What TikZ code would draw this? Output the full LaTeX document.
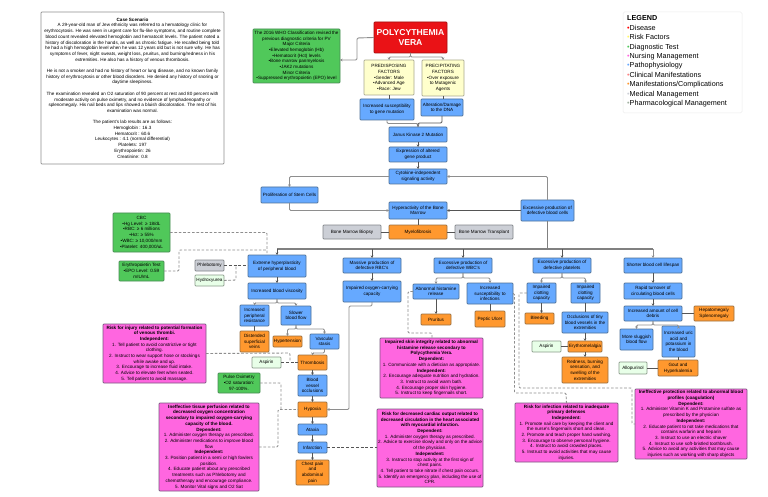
\documentclass[tikz,border=0pt]{standalone}
\usepackage{fontspec}
\setmainfont{Liberation Sans}
\usetikzlibrary{arrows.meta,calc}
\definecolor{cblue}{HTML}{66A9FF}
\definecolor{bblue}{HTML}{4F7198}
\definecolor{corange}{HTML}{FF982E}
\definecolor{borange}{HTML}{9A7040}
\definecolor{cpink}{HTML}{FF66E0}
\definecolor{bpink}{HTML}{7A5A80}
\definecolor{cgreen}{HTML}{50C85A}
\definecolor{bgreen}{HTML}{4A8A55}
\definecolor{cyell}{HTML}{FFFFCC}
\definecolor{byell}{HTML}{A8A890}
\definecolor{clgreen}{HTML}{E8FFE8}
\definecolor{blgreen}{HTML}{8A9A8A}
\definecolor{cgrey}{HTML}{CCCFD6}
\definecolor{bgrey}{HTML}{808488}
\definecolor{cred}{HTML}{EA1216}
\definecolor{lnc}{HTML}{555555}
\definecolor{lnl}{HTML}{8E8E8E}
\newcommand{\bx}[7]{\node[#1,minimum width={(#5-#3)*1pt},minimum height={(#6-#4)*1pt}] (#2) at ({(#3+#5)/2},{(#4+#6)/2}) {#7};}
\newcommand{\hd}[1]{\textbf{#1}}
\newcommand{\lgitem}[2]{\textcolor{#1}{•}#2}
\tikzset{
  base/.style={draw,rectangle,rounded corners=0.8pt,line width=0.7pt,align=center,inner sep=0pt,outer sep=0pt,text=black,font=\fontsize{4.6}{5.7}\selectfont},
  sblue/.style={base,fill=cblue,draw=bblue},
  sorange/.style={base,fill=corange,draw=borange},
  spink/.style={base,fill=cpink,draw=bpink},
  sgreen/.style={base,fill=cgreen,draw=bgreen},
  syell/.style={base,fill=cyell,draw=byell},
  slgreen/.style={base,fill=clgreen,draw=blgreen},
  sgrey/.style={base,fill=cgrey,draw=bgrey},
  redbox/.style={base,fill=cred,draw=cred!70!black,text=white,font=\fontsize{8.6}{9.6}\selectfont\bfseries},
  casebox/.style={base,fill=white,draw=lnl},
  legendbox/.style={draw=black!7,fill=white,rounded corners=1.5pt,line width=0.5pt,align=left,inner sep=0pt,outer sep=0pt},
  ln/.style={draw=lnc,line width=0.9pt,rounded corners=1.2pt},
  arr/.style={ln,-{Stealth[length=2.6pt,width=2.6pt]}},
  larr/.style={arr,draw=lnl},
  bar/.style={draw=lnc!75,line width=1.5pt},
  dsh/.style={draw=lnl,line width=0.9pt,dash pattern=on 2.6pt off 1.8pt,rounded corners=1.2pt},
  ddsh/.style={draw=lnc,line width=0.9pt,dash pattern=on 3pt off 1.8pt},
}
\begin{document}
\begin{tikzpicture}[x=1pt,y=-1pt]
\useasboundingbox[fill=white] (0,0) rectangle (768,497);
% text boxes
\bx{casebox}{case}{41}{12}{224}{164}{\hd{Case Scenario}\\
A 29-year-old man of Jew ethnicity was referred to a hematology clinic for\\
erythrocytosis. He was seen in urgent care for flu-like symptoms, and routine complete\\
blood count revealed elevated hemoglobin and hematocrit levels. The patient noted a\\
history of discoloration in the hands, as well as chronic fatigue. He recalled being told\\
he had a high hemoglobin level when he was 12 years old but is not sure why. He has\\
symptoms of fever, night sweats, weight loss, pruritus, and burning/redness in his\\
extremities. He also has a history of venous thrombosis.\\[5.7pt]
He is not a smoker and had no history of heart or lung disease, and no known family\\
history of erythrocytosis or other blood disorders. He denied any history of snoring or\\
daytime sleepiness.\\[5.7pt]
The examination revealed an O2 saturation of 90 percent at rest and 80 percent with\\
moderate activity on pulse oximetry, and no evidence of lymphadenopathy or\\
splenomegaly. His nail beds and lips showed a bluish discoloration. The rest of his\\
examination was normal.\\[5.7pt]
The patient's lab results are as follows:\\
Hemoglobin : 16.3\\
Hematocrit : 60.6\\
Leukocytes : 4.1 (normal differential)\\
Platelets: 197\\
Erythropoietin: 26\\
Creatinine: 0.8}
\bx{sgreen}{who}{253}{29}{340}{83}{The 2016 WHO Classification revised the\\previous diagnostic criteria for PV\\Major Criteria\\•Elevated hemoglobin (Hb)\\•Hematocrit (Hct) levels\\•Bone marrow panmyelosis\\•JAK2 mutations\\Minor Criteria\\•Suppressed erythropoietin (EPO) level}
\bx{redbox}{pv}{374}{22}{447}{53}{POLYCYTHEMIA\\VERA}
\bx{syell}{pred}{364}{60}{414}{95}{PREDISPOSING\\FACTORS\\•Gender: Male\\•Advanced Age\\•Race: Jew}
\bx{syell}{prec}{422}{60}{464}{96}{PRECIPITATING\\FACTORS\\•Over exposure\\to Mutagenic\\Agents}
\bx{sblue}{susc}{360}{99}{414}{120}{Increased susceptibility\\to gene mutation}
\bx{sblue}{alter}{421}{99}{463}{116}{Alteration/Damage\\to the DNA}
\bx{sblue}{jak}{389}{127}{447}{142}{Janus Kinase 2 Mutation}
\bx{sblue}{expr}{389}{147}{447}{162}{Expression of altered\\gene product}
\bx{sblue}{cyto}{389}{169}{447}{184}{Cytokine-independent\\signaling activity}
\bx{sblue}{prolif}{261}{187}{318}{203}{Proliferation of Stem Cells}
\bx{sblue}{hyper}{389}{202}{447}{219}{Hyperactivity of the Bone\\Marrow}
\bx{sblue}{exc}{521}{200}{574}{221}{Excessive production of\\defective blood cells}
\bx{sorange}{myelo}{389}{225}{447}{239}{Myelofibrosis}
\bx{sgrey}{biopsy}{323}{225}{381}{239}{Bone Marrow Biopsy}
\bx{sgrey}{transp}{455}{225}{513}{239}{Bone Marrow Transplant}
\bx{sblue}{ext}{248}{255}{306}{277}{Extreme hyperplasticity\\of peripheral blood}
\bx{sblue}{mass}{343}{258}{401}{273}{Massive production of\\defective RBC's}
\bx{sblue}{wbc}{434}{258}{492}{273}{Excessive production of\\defective WBC's}
\bx{sblue}{plat}{533}{258}{591}{273}{Excessive production of\\defective platelets}
\bx{sblue}{short}{624}{258}{682}{273}{Shorter blood cell lifespan}
\bx{sgreen}{cbc}{113}{213}{170}{252}{CBC\\•Hg Level: ≥ 18/dL\\•RBC: ≥ 6 millions\\•Hct: ≥ 55\%\\•WBC: ≥ 10,000/mm\\•Platelet: 400,000/uL}
\bx{sgreen}{epo}{119}{261}{164}{281}{Erythropoietin Test\\•EPO Level: 0.59\\mIU/mL}
\bx{sgrey}{phleb}{195}{260}{224}{271}{Phlebotomy}
\bx{slgreen}{hydro}{195}{275}{224}{286}{Hydroxyurea}
\bx{sblue}{visc}{248}{283}{306}{299}{Increased blood viscosity}
\bx{sblue}{perip}{240}{305}{269}{326}{Increased\\peripheral\\resistance}
\bx{sblue}{slow}{281}{306}{311}{325}{Slower\\blood flow}
\bx{sorange}{dist}{240}{331}{269}{352}{Distended\\superficial\\veins}
\bx{sorange}{htn}{273}{336}{302}{347}{Hypertension}
\bx{sblue}{stasis}{310}{334}{339}{349}{Vascular\\stasis}
\bx{sblue}{oxy}{343}{281}{401}{302}{Impaired oxygen-carrying\\capacity}
\bx{sblue}{hist}{413}{284}{459}{299}{Abnormal histamine\\release}
\bx{sblue}{infs}{467}{283}{513}{304}{Increased\\susceptibility to\\infections}
\bx{sorange}{prur}{421}{314}{451}{325}{Pruritus}
\bx{sorange}{ulcer}{475}{311}{505}{327}{Peptic Ulcer}
\bx{sblue}{cut1}{527}{283}{556}{303}{Impaired\\clotting\\capacity}
\bx{sblue}{cut2}{571}{283}{600}{303}{Impaired\\clotting\\capacity}
\bx{sorange}{bleed}{525}{313}{554}{324}{Bleeding}
\bx{sblue}{occl}{562}{312}{608}{333}{Occlusions of tiny\\blood vessels in the\\extremities}
\bx{slgreen}{asp}{532}{341}{561}{352}{Aspirin}
\bx{sorange}{eryth}{568}{341}{602}{352}{Erythromelalgia}
\bx{sorange}{redn}{562}{357}{608}{383}{Redness, burning\\sensation, and\\swelling of the\\extremities}
\bx{sblue}{rapid}{624}{283}{682}{299}{Rapid turnover of\\circulating blood cells}
\bx{sblue}{debris}{624}{306}{682}{321}{Increased amount of cell\\debris}
\bx{sorange}{hepa}{694}{306}{734}{321}{Hepatomegaly\\Splenomegaly}
\bx{sblue}{slug}{620}{329}{653}{350}{More sluggish\\blood flow}
\bx{sblue}{uric}{662}{326}{695}{357}{Increased uric\\acid and\\potassium in\\the blood}
\bx{slgreen}{allo}{619}{362}{647}{374}{Allopurinol}
\bx{sorange}{gout}{658}{360}{698}{376}{Gout and\\Hyperkalemia}
\bx{slgreen}{asp2}{252}{357}{281}{368}{Aspirin}
\bx{sorange}{thromb}{298}{355}{327}{370}{Thrombosis}
\bx{sblue}{vess}{298}{375}{327}{396}{Blood\\vessel\\occlusions}
\bx{sorange}{hypox}{298}{402}{327}{417}{Hypoxia}
\bx{sgreen}{pulse}{218}{373}{260}{393}{Pulse Oximetry\\•O2 saturation:\\97-100\%.}
\bx{sblue}{atax}{298}{424}{327}{435}{Ataxia}
\bx{sblue}{inf}{298}{442}{327}{453}{Infarction}
\bx{sorange}{chest}{296}{460}{329}{485}{Chest pain\\and\\abdominal\\pain}
\bx{spink}{p1}{103}{324}{206}{383}{\hd{Risk for injury related to potential formation}\\\hd{of venous thrombi.}\\\hd{Independent:}\\1. Tell patient to avoid constrictive or tight\\clothing.\\2. Instruct to wear support hose or stockings\\while awake and up.\\3. Encourage to increase fluid intake.\\4. Advice to elevate feet when seated.\\5. Tell patient to avoid massage.}
\bx{spink}{p2}{159}{403}{259}{491}{\hd{Ineffective tissue perfusion related to}\\\hd{decreased oxygen concentration}\\\hd{secondary to impaired oxygen-carrying}\\\hd{capacity of the blood.}\\\hd{Dependent:}\\1. Administer oxygen therapy as prescribed.\\2. Administer medications to improve blood\\flow\\\hd{Independent:}\\3. Position patient in a semi or high fowlers\\position.\\4. Educate patient about any prescribed\\treatments such as Phlebotomy and\\chemotherapy and encourage compliance.\\5. Monitor Vital signs and O2 Sat}
\bx{spink}{p3}{380}{338}{483}{398}{\hd{Impaired skin integrity related to abnormal}\\\hd{histamine release secondary to}\\\hd{Polycythemia Vera.}\\\hd{Dependent:}\\1. Communicate with a dietician as appropriate.\\\hd{Independent:}\\2. Encourage adequate nutrition and hydration.\\3. Instruct to avoid warm bath.\\4. Encourage proper skin hygiene.\\5. Instruct to keep fingernails short.}
\bx{spink}{p4}{377}{409}{483}{487}{\hd{Risk for decreased cardiac output related to}\\\hd{decreased circulation in the heart associated}\\\hd{with myocardial infarction.}\\\hd{Dependent:}\\1. Administer oxygen therapy as prescribed.\\2. Advice to exercise slowly and only on the advice\\of the physician.\\\hd{Independent:}\\3. Instruct to stop activity at the first sign of\\chest pains.\\4. Tell patient to take nitrate if chest pain occurs.\\5. Identify an emergency plan, including the use of\\CPR.}
\bx{spink}{p5}{515}{403}{618}{462}{\hd{Risk for infection related to inadequate}\\\hd{primary defenses}\\\hd{Independent:}\\1. Promote nail care by keeping the client and\\the nurse's fingernails short and clean.\\2. Promote and teach proper hand washing.\\3. Encourage to observe personal hygiene.\\4. Instruct to avoid crowded places.\\5. Instruct to avoid activities that may cause\\injuries.}
\bx{spink}{p6}{635}{389}{747}{459}{\hd{Ineffective protection related to abnormal blood}\\\hd{profiles (coagulation)}\\\hd{Dependent:}\\1. Administer Vitamin K and Protamine sulfate as\\prescribed by the physician\\\hd{Independent:}\\2. Educate patient to not take medications that\\contains warfarin and heparin\\3. Instruct to use an electric shaver\\4. Instruct to use soft-bristled toothbrush.\\5. Advice to avoid any activities that may cause\\injuries such as working with sharp objects}
% legend
\node[legendbox,minimum width=119pt,minimum height=101pt] (legbox) at (682.5,62.5) {};
\node[anchor=north west,align=left,inner sep=0pt,font=\fontsize{7.2}{9.45}\selectfont] (legend) at (627,15.5) {\hd{LEGEND}\\\lgitem{red}{Disease}\\\lgitem{yellow!60!white}{Risk Factors}\\\lgitem{cgreen}{Diagnostic Test}\\\lgitem{cpink}{Nursing Management}\\\lgitem{cblue}{Pathophysiology}\\\lgitem{red!50!white}{Clinical Manifestations}\\\lgitem{corange}{Manifestations/Complications}\\\lgitem{cgrey}{Medical Management}\\\lgitem{clgreen!70!black}{Pharmacological Management}};
% named free ends
\coordinate (extin) at (267,255);
\coordinate (bl) at (277,249);
\coordinate (br) at (653,249);
\coordinate (whoin) at (340,60);
% connectors top
\draw[larr] (pv.west) -- (357,38) -- (357,60) -- (whoin);
\draw[larr] (pv.south) -- ++(0,4) -| (pred.north);
\draw[larr] (pv.south) -- ++(0,4) -| (prec.north);
\draw[ln] (pred.south) -- (pred.south |- susc.north);
\draw[ln] (prec.south) -- (prec.south |- alter.north);
\draw[larr] (susc.south) -- ++(0,3.5) -| (jak.north);
\draw[ln] (alter.south) |- (418,123) -- (jak.north);
\draw[arr] (jak.south) -- (expr.north);
\draw[arr] (expr.south) -- (cyto.north);
\draw[larr] (cyto.west) -| (prolif.north);
\draw[larr] (prolif.south) |- (hyper.west);
\draw[larr] (exc.north) |- (cyto.east);
\draw[arr] (exc.west) -- (hyper.east);
\draw[ln] (hyper.south) -- (myelo.north);
\draw[ln] (biopsy.east) -- (myelo.west);
\draw[ln] (transp.west) -- (myelo.east);
\draw[bar] (bl) -- (br);
\draw[bar] (exc.south) -- (exc.south |- bl);
\draw[arr] (bl) -- (bl |- ext.north);
\draw[arr] (mass.north |- bl) -- (mass.north);
\draw[arr] (wbc.north |- bl) -- (wbc.north);
\draw[arr] (plat.north |- bl) -- (plat.north);
\draw[larr] (br) -- (short.north);
% left column
\draw[arr] (ext.south) -- (visc.north);
\draw[larr] (visc.south) -- ++(0,4) -| (perip.north);
\draw[larr] (visc.south) -- ++(0,4) -| (slow.north);
\draw[ln] (perip.south) -- (dist.north);
\draw[larr] (slow.south) -- ++(0,4) -| (htn.north);
\draw[larr] (slow.south) -- ++(0,4) -| (stasis.north);
\draw[larr] (stasis.south) -- ++(0,4) -| (thromb.north);
\draw[arr] (thromb.south) -- (vess.north);
\draw[arr] (vess.south) -- (hypox.north);
\draw[arr] (hypox.south) -- (atax.north);
\draw[arr] (atax.south) -- (inf.north);
\draw[arr] (inf.south) -- (chest.north);
\draw[arr] (mass.south) -- (oxy.north);
\draw[larr] (oxy.south) -- ++(0,4) -- (349,306) -- (349,409.5) -- (hypox.east);
% WBC column
\draw[larr] (wbc.south) -- ++(0,5) -| (hist.north);
\draw[larr] (wbc.south) -- ++(0,5) -| (infs.north);
\draw[arr] (hist.south) -- (hist.south |- prur.north);
\draw[ln] (infs.south) -- (infs.south |- ulcer.north);
% platelets
\draw[larr] (plat.south) -- ++(0,5) -| (cut1.north);
\draw[larr] (plat.south) -- ++(0,5) -| (cut2.north);
\draw[arr] (cut1.south) -- (cut1.south |- bleed.north);
\draw[ln] (cut2.south) -- (cut2.south |- occl.north);
\draw[arr] (occl.south) -- (occl.south |- eryth.north);
\draw[arr] (eryth.south) -- (eryth.south |- redn.north);
\draw[ln] (asp.east) -- (eryth.west);
% shorter
\draw[arr] (short.south) -- (rapid.north);
\draw[arr] (rapid.south) -- (debris.north);
\draw[ln] (debris.east) -- (hepa.west);
\draw[larr] (debris.south) -- ++(0,4) -| (slug.north);
\draw[larr] (debris.south) -- ++(0,4) -| (uric.north);
\draw[ln] (uric.south) -- (uric.south |- gout.north);
\draw[ln] (allo.east) -- (gout.west);
% dashed
\draw[dsh] (cbc.east) -| (extin);
\draw[dsh] (epo.east) -- (179,271) -- (179,250) -- (267,250);
\draw[ddsh] (phleb.east) -- (ext.west |- phleb.east);
\draw[dsh] (hydro.east) -- (236,280) -- (236,266);
\draw[dsh] (p1.east) -- (290,353) -- (290,362);
\draw[ddsh] (asp2.east) -- (thromb.west);
\draw[dsh] (pulse.east) -- (281,383) -- (281,409.5);
\draw[dsh] (p2.east) -- (278,447) -- (278,409.5) -- (hypox.west);
\draw[ddsh] (inf.east) -- (p4.west |- inf.east);
\draw[dsh] (hist.west) -- (408,291.5) -- (408,333) -- (432,333) -- (432,338);
\draw[dsh] (infs.east) -- (514.5,293.5) -- (514.5,393) -- (566,393) -- (p5.north);
\draw[dsh] (cut1.west) -- (519,293) -- (519,388) -- (632,388) -- (632,424) -- (p6.west);
\end{tikzpicture}
\end{document}
